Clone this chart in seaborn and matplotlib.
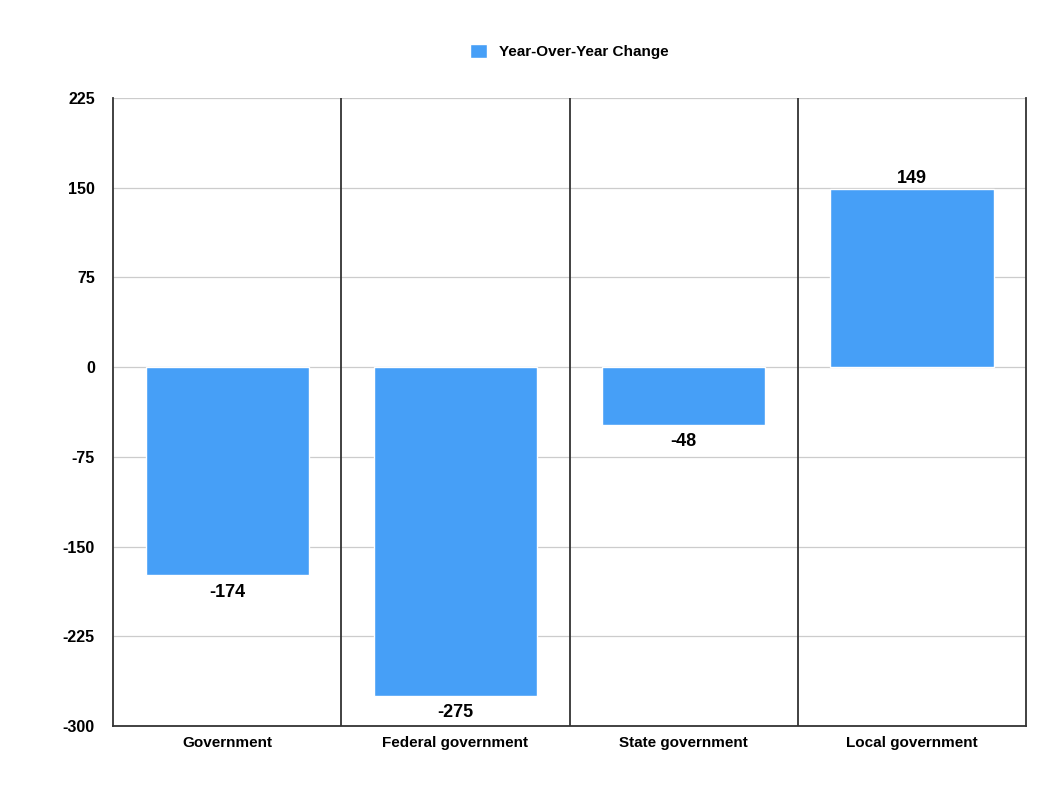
import matplotlib
matplotlib.use("Agg")
import matplotlib.pyplot as plt
import seaborn as sns
import pandas as pd

categories = ["Government", "Federal government", "State government", "Local government"]
values = [-174, -275, -48, 149]
series_name = "Year-Over-Year Change"
y_ticks = [-300, -225, -150, -75, 0, 75, 150, 225]

bar_color = "#469FF7"

sns.set_style("white")
plt.rcParams["font.family"] = ["Liberation Sans", "DejaVu Sans"]
plt.rcParams["font.weight"] = "bold"
plt.rcParams["text.color"] = "black"
plt.rcParams["xtick.color"] = "black"
plt.rcParams["ytick.color"] = "black"

df = pd.DataFrame({"category": categories, "value": values, "series": series_name})

fig = plt.figure(figsize=(10.58, 8.08), dpi=100)
ax = fig.add_axes([0.1068, 0.1015, 0.863, 0.7772])

sns.barplot(data=df, x="category", y="value", hue="series", palette=[bar_color],
            width=0.715, ax=ax, saturation=1, zorder=3)

ax.set_ylim(-300, 225)
ax.set_xlim(-0.5, len(categories) - 0.5)
ax.set_yticks(y_ticks)
ax.set_yticklabels([str(t) for t in y_ticks], fontsize=11.5, fontweight="bold")
ax.set_xticks(range(len(categories)))
ax.set_xticklabels(categories, fontsize=11, fontweight="bold")
ax.tick_params(axis="x", length=0, pad=7)
ax.tick_params(axis="y", length=0, pad=13)
ax.set_xlabel("")
ax.set_ylabel("")

ax.yaxis.grid(True, color="#cccccc", linewidth=0.9, zorder=0)
ax.set_axisbelow(True)

ax.spines["top"].set_visible(False)
for s in ["left", "right", "bottom"]:
    ax.spines[s].set_color("#333333")
    ax.spines[s].set_linewidth(1.3)
for i in range(1, len(categories)):
    ax.axvline(i - 0.5, color="#333333", linewidth=1.3, zorder=4)

for i, v in enumerate(values):
    if v >= 0:
        ax.annotate(str(v), (i, v), xytext=(0, 1.5), textcoords="offset points",
                    ha="center", va="bottom", fontsize=13, fontweight="bold")
    else:
        ax.annotate(str(v), (i, v), xytext=(0, -6), textcoords="offset points",
                    ha="center", va="top", fontsize=13, fontweight="bold")

ax.legend(loc="center", bbox_to_anchor=(0.5, 1.074), frameon=False,
          prop={"size": 11, "weight": "bold"}, handlelength=1.1, handleheight=1.1,
          handletextpad=0.8)

fig.savefig("out.png", dpi=100, facecolor="white")
